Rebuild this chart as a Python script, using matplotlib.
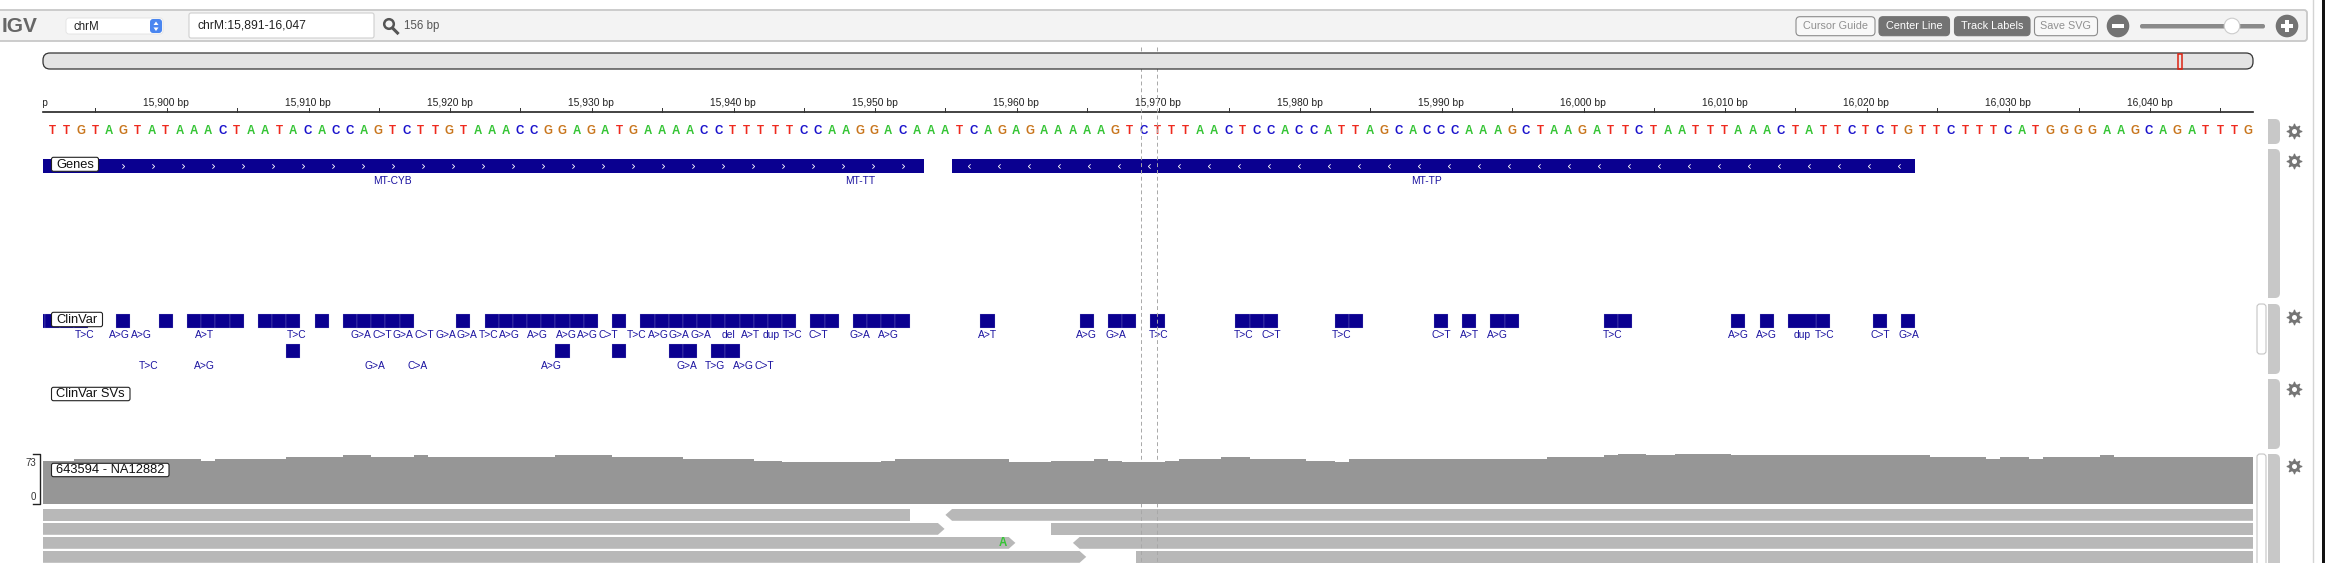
import numpy as np
import matplotlib
matplotlib.use('Agg')
import matplotlib.pyplot as plt
from matplotlib.patches import FancyBboxPatch, Rectangle, Circle, Polygon
from matplotlib.path import Path

plt.rcParams['font.family'] = ['Liberation Sans', 'DejaVu Sans']

## 数据 data
locus = 'chrM:15,891-16,047'
span_label = '156 bp'
view_start = 15890.83
view_end = 16046.83
sequence = 'TTGTAGTATAAACTAATACACCAGTCTTGTAAACCGGAGATGAAAACCTTTTTCCAAGGACAAATCAGAGAAAAAGTCTTTAACTCCACCATTAGCACCCAAAGCTAAGATTCTAATTTAAACTATTCTCTGTTCTTTCATGGGGAAGCAGATTTG'
base_colors = {'A': '#35c435', 'C': '#1a12cc', 'G': '#c9771f', 'T': '#ee2a1e'}

tick_major = [15890, 15900, 15910, 15920, 15930, 15940, 15950, 15960, 15970, 15980, 15990, 16000, 16010, 16020, 16030, 16040]
tick_minor = [15895, 15905, 15915, 15925, 15935, 15945, 15955, 15965, 15975, 15985, 15995, 16005, 16015, 16025, 16035, 16045]

gene_start = [15850, 15955]
gene_end = [15953, 16023]
gene_names = ['MT-CYB', 'MT-TT', 'MT-TP']
gene_name_pos = [15915.5, 15948.5, 15988.5]

clinvar_row1 = [15890, 15891, 15892, 15893, 15896, 15899, 15901, 15902, 15903, 15904, 15906, 15907, 15908, 15910,
                15912, 15913, 15914, 15915, 15916, 15920, 15922, 15923, 15924, 15925, 15926, 15927, 15928, 15929,
                15931, 15933, 15934, 15935, 15936, 15937, 15938, 15939, 15940, 15941, 15942, 15943, 15945, 15946,
                15948, 15949, 15950, 15951, 15957, 15964, 15966, 15967, 15969, 15975, 15976, 15977, 15982, 15983,
                15989, 15991, 15993, 15994, 16001, 16002, 16010, 16012, 16016, 16020, 16022]
clinvar_wide = [16014]
clinvar_row2 = [15908, 15927, 15931, 15935, 15936, 15938, 15939]

label1_text = ['T>C', 'A>G', 'A>G', 'A>T', 'T>C', 'G>A', 'C>T', 'G>A', 'C>T', 'G>A', 'G>A', 'T>C', 'A>G', 'A>G', 'A>G',
               'A>G', 'C>T', 'T>C', 'A>G', 'G>A', 'G>A', 'del', 'A>T', 'dup', 'T>C', 'C>T', 'G>A', 'A>G', 'A>T', 'A>G',
               'G>A', 'T>C', 'T>C', 'C>T', 'T>C', 'C>T', 'A>T', 'A>G', 'T>C', 'A>G', 'A>G', 'dup', 'T>C', 'C>T', 'G>A']
label1_pos = [15893.75, 15896.25, 15897.75, 15902.25, 15908.75, 15913.25, 15914.75, 15916.25, 15917.75, 15919.25,
              15920.75, 15922.25, 15923.75, 15925.75, 15927.75, 15929.25, 15930.75, 15932.75, 15934.25, 15935.75,
              15937.25, 15939.25, 15940.75, 15942.25, 15943.75, 15945.55, 15948.5, 15950.5, 15957.5, 15964.5,
              15966.55, 15969.55, 15975.55, 15977.5, 15982.5, 15989.55, 15991.55, 15993.5, 16001.6, 16010.5,
              16012.5, 16015, 16016.6, 16020.5, 16022.55]
label2_text = ['T>C', 'A>G', 'G>A', 'C>A', 'A>G', 'G>A', 'T>G', 'A>G', 'C>T']
label2_pos = [15898.25, 15902.25, 15914.25, 15917.25, 15926.75, 15936.25, 15938.25, 15940.25, 15941.75]

coverage = [63,
            63, 63, 65, 66, 66, 66, 65, 65, 65, 66,
            65, 63, 66, 66, 66, 66, 66, 68, 68, 69,
            69, 71, 71, 69, 69, 69, 71, 69, 69, 69,
            69, 69, 69, 69, 69, 69, 72, 72, 72, 71,
            69, 69, 68, 68, 68, 66, 66, 65, 65, 65,
            63, 63, 62, 62, 62, 62, 62, 62, 62, 63,
            65, 65, 65, 66, 66, 66, 66, 65, 62, 62,
            62, 63, 63, 63, 65, 63, 62, 62, 62, 63,
            66, 66, 66, 68, 68, 66, 66, 66, 65, 63,
            63, 62, 65, 65, 66, 66, 66, 66, 66, 66,
            66, 66, 66, 66, 65, 66, 68, 69, 69, 69,
            72, 73, 73, 72, 72, 73, 73, 73, 73, 72,
            72, 72, 72, 71, 71, 72, 72, 72, 72, 72,
            71, 71, 71, 69, 69, 69, 69, 66, 69, 68,
            66, 68, 69, 69, 69, 71, 69, 69, 69, 69,
            69, 69, 69, 69, 69, 69]

## (left read end, right read start), one pair for each row of reads
read_end = [15952, 15954, 15959, 15964]
read_start = [15955, 15962, 15964, 15968]
read_end_tip = [False, True, True, True]
read_start_tip = [True, False, True, False]
mismatch_pos = 15958
mismatch_base = 'A'

## figure: one axes in pixels for the page, the tracks share a bp x scale
W, H = 2325, 563
fig = plt.figure(figsize=(W / 100, H / 100), dpi=100)
fig.patch.set_facecolor('white')

ax = fig.add_axes([43 / W, 0, 2210 / W, 1])
ax.set_xlim(view_start, view_end)
ax.set_ylim(H, 0)
ax.axis('off')

ax_cov = fig.add_axes([43 / W, (H - 503.7) / H, 2210 / W, 49.67 / H])
ax_cov.set_xlim(view_start, view_end)
ax_cov.set_ylim(0, 73)
ax_cov.axis('off')

ui = fig.add_axes([0, 0, 1, 1], zorder=5)
ui.set_xlim(0, W)
ui.set_ylim(H, 0)
ui.axis('off')
ui.patch.set_alpha(0)


def rbox(x0, y0, x1, y1, fc, ec='none', lw=1.0, r=3, z=2):
    ui.add_patch(FancyBboxPatch((x0 + r, y0 + r), x1 - x0 - 2 * r, y1 - y0 - 2 * r,
                                boxstyle='round,pad={},rounding_size={}'.format(r, r),
                                fc=fc, ec=ec, lw=lw, zorder=z))


## toolbar
rbox(-20, 10, 2307, 41, '#f3f3f3', '#c8c8c8', 1.3, r=3, z=1)
ui.text(2, 26, 'IGV', fontsize=15, fontweight='bold', color='#666666', va='center', ha='left')
rbox(66, 18, 163, 34, 'white', '#e2e2e2', 0.6, r=3)
rbox(150, 19, 162, 33, '#4a86f0', r=3, z=3)
ui.add_patch(Polygon([[153.5, 25], [158.5, 25], [156, 21.5]], fc='white', ec='none', zorder=4))
ui.add_patch(Polygon([[153.5, 27.5], [158.5, 27.5], [156, 31]], fc='white', ec='none', zorder=4))
ui.text(73, 26.5, 'chrM', fontsize=8.3, color='#222222', va='center')
rbox(189, 13, 374, 38, 'white', '#cfcfcf', 0.8, r=2)
ui.text(198, 26, locus, fontsize=8.7, color='#222222', va='center')
ui.add_patch(Circle((389, 24), 4.8, fc='none', ec='#555555', lw=1.8, zorder=3))
ui.plot([392.5, 397.5], [28, 33], color='#555555', lw=2.2, zorder=3)
ui.text(404, 26.5, span_label, fontsize=8.3, color='#555555', va='center')

for x0, x1, name, on in [(1796, 1875, 'Cursor Guide', False), (1879, 1949.5, 'Center Line', True),
                         (1954.5, 2030, 'Track Labels', True), (2034.5, 2097.5, 'Save SVG', False)]:
    if on:
        rbox(x0, 16.7, x1, 35.7, '#737373', '#737373', 0.8, r=4)
    else:
        rbox(x0, 16.7, x1, 35.7, '#f8f8f8', '#8c8c8c', 0.8, r=4)
    ui.text((x0 + x1) / 2, 25.8, name, fontsize=7.8, color='white' if on else '#909090',
            va='center', ha='center', zorder=4)

ui.add_patch(Circle((2118, 26), 11.3, fc='#737373', ec='none', zorder=3))
ui.add_patch(Rectangle((2112, 24.3), 12, 3.4, fc='white', ec='none', zorder=4))
ui.add_patch(Circle((2287, 26), 11.3, fc='#737373', ec='none', zorder=3))
ui.add_patch(Rectangle((2281, 24.3), 12, 3.4, fc='white', ec='none', zorder=4))
ui.add_patch(Rectangle((2285.3, 20), 3.4, 12, fc='white', ec='none', zorder=4))
rbox(2140, 24, 2265, 28.5, '#8a8a8a', r=2)
ui.add_patch(Circle((2232, 26), 7.8, fc='white', ec='#cccccc', lw=0.8, zorder=4))

## ideogram
rbox(43, 53, 2253, 69, '#e4e4e4', '#333333', 0.9, r=7)
ui.add_patch(Rectangle((2178, 54), 4.3, 14.5, fc='none', ec='#dd2211', lw=1.1, zorder=3))

## ruler
ax.plot([view_start, view_end], [112.3, 112.3], color='#222222', lw=1.2, clip_on=False)
for t in tick_major:
    ax.plot([t - 0.42, t - 0.42], [108, 112], color='#333333', lw=0.7)
    ax.text(t - 0.48, 103, '{:,} bp'.format(t), fontsize=7.4, color='#222222', ha='center', va='center', clip_on=True)
for t in tick_minor:
    ax.plot([t - 0.47, t - 0.47], [108, 112], color='#333333', lw=0.7)

## sequence
for i, b in enumerate(sequence):
    ax.text(15891.5 + i, 131, b, color=base_colors[b], fontsize=8.3, fontweight='bold', ha='center', va='center')

## genes
blue = '#0a0090'
chevron_r = Path([(-0.5, -1), (0.5, 0), (-0.5, 1)], [Path.MOVETO, Path.LINETO, Path.LINETO])
chevron_l = Path([(0.5, -1), (-0.5, 0), (0.5, 1)], [Path.MOVETO, Path.LINETO, Path.LINETO])
for s, e in zip(gene_start, gene_end):
    ax.add_patch(Rectangle((s, 159), e - s, 14, fc=blue, ec='none'))
ax.plot(np.arange(15896.48, 15953, 2.118), np.full(27, 166.0), ls='', marker=chevron_r, ms=3.2,
        mfc='none', mec='white', mew=0.6)
ax.plot(np.arange(15956.2, 16023, 2.118), np.full(32, 166.0), ls='', marker=chevron_l, ms=3.2,
        mfc='none', mec='white', mew=0.6)
for n, p in zip(gene_names, gene_name_pos):
    ax.text(p, 180.5, n, color='#1a12a0', fontsize=7.4, ha='center', va='center')

## clinvar
ax.bar(clinvar_row1, 14, width=1, bottom=314, align='edge', color=blue, edgecolor='#b8b8e0', linewidth=0.15)
ax.bar(clinvar_wide, 14, width=2, bottom=314, align='edge', color=blue, edgecolor='#b8b8e0', linewidth=0.15)
ax.bar(clinvar_row2, 14, width=1, bottom=344, align='edge', color=blue, edgecolor='#b8b8e0', linewidth=0.15)
for n, p in zip(label1_text, label1_pos):
    ax.text(p, 335.5, n, color='#1a12a0', fontsize=7.4, ha='center', va='center')
for n, p in zip(label2_text, label2_pos):
    ax.text(p, 366, n, color='#1a12a0', fontsize=7.4, ha='center', va='center')

## coverage
ax_cov.bar(np.arange(len(coverage)) + 15890, coverage, width=1, align='edge', color='#969696', linewidth=0)

## scale of the coverage track
ui.plot([32.5, 40, 40, 32.5], [454.3, 454.3, 503.7, 503.7], color='#222222', lw=1.0)
ui.text(36, 463.5, '73', fontsize=7, color='#333333', ha='right', va='center')
ui.text(36, 497, '0', fontsize=7, color='#333333', ha='right', va='center')

## reads
read_color = '#b8b8b8'
for k, top in enumerate([509, 523, 537, 551]):
    bot = top + 11.8
    mid = (top + bot) / 2
    end = read_end[k]
    left = [[15850, top], [end, top]]
    if read_end_tip[k]:
        left.append([end + 0.47, mid])
    left += [[end, bot], [15850, bot]]
    ax.add_patch(Polygon(left, fc=read_color, ec='none'))
    start = read_start[k]
    right = [[16100, top], [start, top]]
    if read_start_tip[k]:
        right.append([start - 0.47, mid])
    right += [[start, bot], [16100, bot]]
    ax.add_patch(Polygon(right, fc=read_color, ec='none', zorder=1))
ax.text(mismatch_pos + 0.55, 543, mismatch_base, color=base_colors[mismatch_base], fontsize=8.3,
        fontweight='bold', ha='center', va='center')

## center lines
for c in [15968.35, 15969.43]:
    ax.plot([c, c], [47, H], color='#a8a8a8', lw=0.7, ls=(0, (4, 3)), zorder=6)

## track labels
for x1, y0, y1, name in [(98.5, 157.3, 171.3, 'Genes'), (102.5, 312.3, 326.7, 'ClinVar'),
                         (130, 387.3, 400.7, 'ClinVar SVs'), (169, 463.3, 476.7, '643594 - NA12882')]:
    rbox(51.5, y0, x1, y1, 'white', '#222222', 0.8, r=2, z=6)
    ui.text((51.5 + x1) / 2, (y0 + y1) / 2 + 0.3, name, fontsize=9.3, color='#111111', ha='center', va='center', zorder=7)

## right side: track scrollers, gears
for y0, y1 in [(119, 144), (149, 298), (304, 374), (379, 449), (454, 590)]:
    rbox(2268, y0, 2280, y1, '#c8c8c8', r=5)
    ui.add_patch(Rectangle((2268, y0), 6, y1 - y0, fc='#c8c8c8', ec='none', zorder=2))
rbox(2257, 304, 2266, 354, 'white', '#c4c4c4', 0.8, r=3)
rbox(2257, 454, 2266, 590, 'white', '#c4c4c4', 0.8, r=3)
for y in [131, 161, 317, 389, 466]:
    ui.plot([2294], [y], marker=(8, 1, 0), ms=11, mfc='#757575', mec='#757575', mew=0.8, zorder=3)
    ui.plot([2294], [y], marker='o', ms=8, mfc='#757575', mec='none', zorder=3)
    ui.plot([2294], [y], marker='o', ms=3.6, mfc='white', mec='none', zorder=4)

ui.plot([2313, 2313], [0, H], color='#d4d4d4', lw=1.0)
ui.add_patch(Rectangle((2322, 0), 4, H, fc='#111111', ec='none', zorder=3))

fig.savefig('out.png', dpi=100)
